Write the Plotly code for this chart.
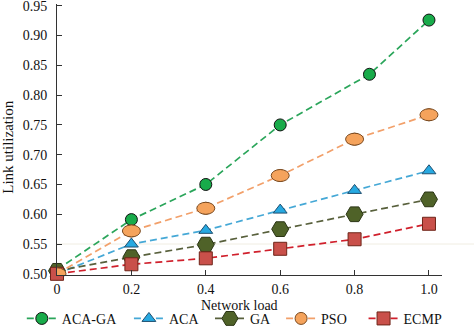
import plotly.graph_objects as go

# ---- data ----
loads = [0, 0.2, 0.4, 0.6, 0.8, 1.0]
loads_acaga = [0, 0.2, 0.4, 0.6, 0.84, 1.0]
aca_ga = [0.507, 0.591, 0.650, 0.750, 0.835, 0.926]
aca = [0.500, 0.550, 0.573, 0.607, 0.640, 0.673]
ga = [0.505, 0.528, 0.549, 0.575, 0.600, 0.625]
pso = [0.500, 0.572, 0.610, 0.665, 0.726, 0.767]
ecmp = [0.500, 0.516, 0.526, 0.542, 0.558, 0.584]
x_ticks = [0, 0.2, 0.4, 0.6, 0.8, 1.0]
x_ticklabels = ["0", "0.2", "0.4", "0.6", "0.8", "1.0"]
y_ticks = [0.50, 0.55, 0.60, 0.65, 0.70, 0.75, 0.80, 0.85, 0.90, 0.95]
names = ["ACA-GA", "ACA", "GA", "PSO", "ECMP"]

FONT = "Liberation Serif"
fig = go.Figure()

series = [
    dict(name="ACA-GA", x=loads_acaga, y=aca_ga, line="#2aa55a", fill="#18ab4a",
         edge="#111111", symbol="circle", size=12, legend="legend"),
    dict(name="ACA", x=loads, y=aca, line="#45a8d6", fill="#27a9e1",
         edge="#1f4f70", symbol="triangle-up", size=12, legend="legend2"),
    dict(name="GA", x=loads, y=ga, line="#58603c", fill="#4f6228",
         edge="#2a3414", symbol="hexagon2", size=17, legend="legend3"),
    dict(name="PSO", x=loads, y=pso, line="#f2a06a", fill="#f5a35c",
         edge="#7a4a20", symbol="circle", size=12, legend="legend4"),
    dict(name="ECMP", x=loads, y=ecmp, line="#d0202c", fill="#c9504a",
         edge="#6e2418", symbol="square", size=13, legend="legend5"),
]

for s in series:
    fig.add_trace(go.Scatter(
        x=s["x"], y=s["y"], name=s["name"], mode="lines+markers",
        line=dict(color=s["line"], width=1.7, dash="7px,4px"),
        marker=dict(symbol=s["symbol"], size=s["size"], color=s["fill"],
                    line=dict(color=s["edge"], width=1)),
        cliponaxis=False, legend=s["legend"],
    ))

# PSO markers are wide ellipses: pixel-sized shapes anchored at the data points
shapes = []
for xv, yv in zip(loads, pso):
    shapes.append(dict(type="circle", xref="x", yref="y", xsizemode="pixel",
                       ysizemode="pixel", xanchor=xv, yanchor=yv,
                       x0=-9, x1=9, y0=-6, y1=6,
                       fillcolor="#f5a35c", line=dict(color="#7a4a20", width=1),
                       layer="above"))
# faint horizontal artefact line
shapes.append(dict(type="line", xref="paper", yref="y", x0=0, x1=1.1,
                   y0=0.55, y1=0.55, line=dict(color="#f0ede2", width=1),
                   layer="below"))

legend_x = [0.046, 0.272, 0.443, 0.593, 0.767]
legend_common = dict(orientation="h", yanchor="middle", y=0.022, xanchor="left",
                     xref="container", yref="container",
                     font=dict(family=FONT, size=14, color="#111111"),
                     bgcolor="rgba(0,0,0,0)", borderwidth=0)

layout_legends = {}
for i, lx in enumerate(legend_x):
    key = "legend" if i == 0 else f"legend{i+1}"
    layout_legends[key] = dict(legend_common, x=lx)

fig.update_layout(
    width=474, height=326,
    margin=dict(l=57, r=32, t=4, b=51, autoexpand=False),
    paper_bgcolor="white", plot_bgcolor="white",
    font=dict(family=FONT, size=14, color="#111111"),
    showlegend=True,
    shapes=shapes,
    **layout_legends,
    xaxis=dict(range=[0, 1.035], tickvals=x_ticks, ticktext=x_ticklabels,
               ticks="inside", ticklen=5, tickcolor="#333333",
               showline=True, linecolor="#333333", linewidth=1,
               showgrid=False, zeroline=False, ticklabelstandoff=1,
               ticklabeloverflow="allow", automargin=False),
    yaxis=dict(range=[0.498, 0.953], tickvals=y_ticks, tickformat=".2f",
               ticks="inside", ticklen=5, tickcolor="#333333",
               showline=True, linecolor="#333333", linewidth=1,
               showgrid=False, zeroline=False, ticklabelstandoff=6,
               ticklabeloverflow="allow", automargin=False),
    annotations=[
        dict(text="Network load", xref="paper", yref="paper", x=0.473, y=-0.112,
             xanchor="center", yanchor="middle", showarrow=False,
             font=dict(family=FONT, size=14, color="#111111")),
        dict(text="Link utilization", xref="paper", yref="paper", x=-0.127, y=0.47,
             xanchor="center", yanchor="middle", showarrow=False, textangle=-90,
             font=dict(family=FONT, size=15, color="#111111")),
    ],
)

fig.write_html("out.html")
